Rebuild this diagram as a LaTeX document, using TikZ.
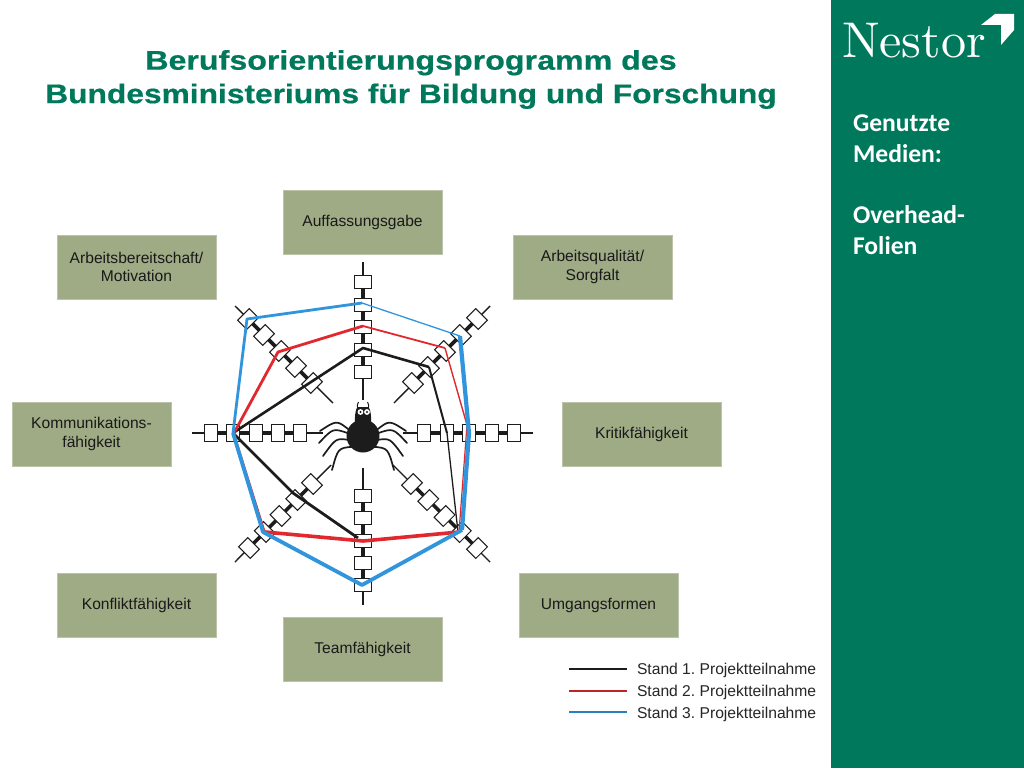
\documentclass[tikz,border=0pt]{standalone}
\usepackage{fontspec}
\usepackage{graphicx}
\newfontfamily\arialf{Liberation Sans}
\newfontfamily\titlef[BoldFeatures={FakeBold=0.5}]{Liberation Sans}
\newfontfamily\calibf{Carlito}
\usetikzlibrary{calc}
\definecolor{nestor}{HTML}{00785C}
\definecolor{sage}{HTML}{9EAB85}
\definecolor{ink}{HTML}{1C1C1C}
\definecolor{redline}{HTML}{E1282E}
\definecolor{blueline}{HTML}{3195DE}
\frenchspacing
\tikzset{
  every node/.style={inner sep=0pt,outer sep=0pt},
  label box/.style={fill=sage,draw=sage!70!white,line width=0.6pt,minimum width=159pt,minimum height=64pt,align=center,font=\arialf\fontsize{15.6}{18.5}\selectfont,text=black!90},
  tick box/.style={draw=ink,fill=white,line width=1pt,minimum width=16.5pt,minimum height=13pt},
  title text/.style={font=\titlef\bfseries\fontsize{27}{33.5}\selectfont,text=nestor,align=center,xscale=1.175},
  side text/.style={font=\calibf\bfseries\fontsize{25.6}{30.7}\selectfont,text=white,align=left,anchor=north west},
  legend text/.style={font=\arialf\frenchspacing\fontsize{15.65}{18}\selectfont,text=black!85,anchor=west},
  leg/.style={draw=ink,line width=1.7pt,line cap=round},
  thin spoke/.style={draw=ink,line width=1.4pt},
  thick spoke/.style={draw=ink,line width=3.6pt},
}
\begin{document}
\begin{tikzpicture}[x=1pt,y=-1pt]
\useasboundingbox (0,0) rectangle (1024,768);
\fill[white] (0,0) rectangle (1024,768);
\fill[nestor] (831,0) rectangle (1024,768);

% logo
\node[anchor=base west,text=white,font=\rmfamily\fontsize{10}{12}\selectfont,scale=5.02] (logo) at (842,57) {Nestor};
\fill[white] (981,25) -- (995,14) -- (1014,14) -- (1014,30) -- (1001,45) -- (1001,25) -- cycle;

% title and side text
\node[title text] (title) at (411,79.5) {\scalebox{1.015}[1]{Berufsorientierungsprogramm des}\\Bundesministeriums für Bildung und Forschung};
\node[side text] (media) at (853,115) {Genutzte\\Medien:\\[30.7pt]Overhead-\\Folien};

% label boxes
\node[label box] (auff) at (362.5,222) {Auffassungsgabe};
\node[label box] (arbb) at (136.5,267) {Arbeitsbereitschaft/\\Motivation};
\node[label box] (arbq) at (592.5,267) {Arbeitsqualität/\\Sorgfalt};
\node[label box] (komm) at (91.5,434) {Kommunikations-\\fähigkeit};
\node[label box] (krit) at (641.5,434) {Kritikfähigkeit};
\node[label box] (konf) at (136.5,605) {Konfliktfähigkeit};
\node[label box] (umga) at (598.5,605) {Umgangsformen};
\node[label box] (team) at (362.5,649) {Teamfähigkeit};

% spokes: name / outer tip / inner tip / outer box / inner box / rotation
\foreach \n/\tipa/\tipb/\boxa/\boxb/\rot in {
  N/{363,262}/{363,400}/{363,282}/{363,372}/0,
  S/{363,605}/{363,468}/{363,585}/{363,496}/0,
  W/{192,433}/{323,433}/{211,433}/{300,433}/90,
  E/{533,433}/{403,433}/{514,433}/{424,433}/90,
  NW/{235,306}/{333,403}/{248,319}/{312,383}/45,
  NE/{490,306}/{394,403}/{477,319}/{413,383}/-45,
  SW/{235,562}/{331,465}/{249,548}/{312,484}/-45,
  SE/{490,562}/{393,465}/{477,548}/{412,484}/45}{
  \coordinate (\n ta) at (\tipa);
  \coordinate (\n tb) at (\tipb);
  \coordinate (\n ba) at (\boxa);
  \coordinate (\n bb) at (\boxb);
  \path[thin spoke] (\n ta) -- (\n tb);
  \path[thick spoke] (\n ba) -- (\n bb);
  \foreach \k in {0,1,2,3,4}{
    \node[tick box,rotate=\rot] (\n\k) at ($(\n ba)!\k/4!(\n bb)$) {};
  }
}

% spider
\foreach \xa/\ya/\xb/\yb/\xc/\yc in {
    349.3/430/336.7/420/320/431,
    348.3/433.3/333/428/319/443,
    349.3/440/336/438/323/456,
    353.3/446.7/338/448/332/470,
    376.7/430/389.3/420/406/431,
    377.7/433.3/393/428/407/443,
    376.7/440/390/438/403/456,
    372.7/446.7/388/448/394/470}{
  \draw[leg] (\xa,\ya) .. controls (\xb,\yb) .. (\xc,\yc);
}
\fill[ink] (363,436) circle (16.5);
\fill[ink] (355,425) .. controls (354.5,416) and (355.5,409) .. (357.5,407) -- (368.5,407) .. controls (370.5,409) and (371.5,416) .. (371,425) -- cycle;
\draw[ink,line width=1pt] (358,409) .. controls (357,405) .. (358.5,402);
\draw[ink,line width=1pt] (368,409) .. controls (369,405) .. (367.5,402);
\fill[white] (360.5,412) circle (2.9);
\fill[white] (367,412) circle (2.9);
\fill[ink] (360.5,412) circle (1.1);
\fill[ink] (367,412) circle (1.1);

% polygon vertices
\coordinate (k1) at (233,433);
\coordinate (k2) at (363,348);
\coordinate (k3) at (429,367);
\coordinate (k3b) at (447,433);
\coordinate (k4) at (458,532);
\coordinate (k5) at (358,538);
\coordinate (k6) at (293,493);
\coordinate (r1) at (234,433);
\coordinate (r2) at (278,352);
\coordinate (r3) at (363,326);
\coordinate (r4) at (445,348);
\coordinate (r5) at (467,425);
\coordinate (r6) at (459,532);
\coordinate (r7) at (363,541);
\coordinate (r8) at (265,532);
\coordinate (b1) at (233,433);
\coordinate (b2) at (247,319);
\coordinate (b3) at (362,303);
\coordinate (b4) at (460,336);
\coordinate (b5) at (469,433);
\coordinate (b6) at (462,530);
\coordinate (b7) at (362,585);
\coordinate (b8) at (263,532);

% stand 1
\draw[ink,line join=round,line width=2.6pt] (k1) -- (k2) -- (k3);
\draw[ink,line join=round,line width=2pt] (k3) -- (k3b);
\draw[ink,line width=1.3pt] (k3b) -- (k4);
\draw[ink,line join=round,line width=2.8pt] (k5) -- (k6) -- (k1);
% stand 2
\draw[redline,line join=round,line width=2.8pt] (r1) -- (r2) -- (r3);
\draw[redline,line width=1.8pt] (r3) -- (r4);
\draw[redline,line width=1.4pt] (r4) -- (r5);
\draw[redline,line width=1.2pt] (r5) -- (r6);
\draw[redline,line join=round,line width=3.6pt] (r6) -- (r7) -- (r8);
\draw[redline,line width=1.4pt] (r8) -- (r1);
% stand 3
\draw[blueline,line join=round,line width=2.8pt] (b1) -- (b2) -- (b3);
\draw[blueline,line width=1.3pt] (b3) -- (b4);
\draw[blueline,line join=round,line width=4.2pt] (b4) -- (b5) -- (b6);
\draw[blueline,line join=round,line width=3.8pt] (b6) -- (b7) -- (b8) -- (b1);

% legend
\coordinate (l1a) at (569,669); \coordinate (l1b) at (627,669);
\coordinate (l2a) at (569,691); \coordinate (l2b) at (627,691);
\coordinate (l3a) at (569,712); \coordinate (l3b) at (627,712);
\draw[ink,line width=1.6pt] (l1a) -- (l1b);
\draw[redline!85!black,line width=1.6pt] (l2a) -- (l2b);
\draw[blueline!85!black,line width=1.6pt] (l3a) -- (l3b);
\node[legend text] (s1) at (637,670) {Stand 1. Projektteilnahme};
\node[legend text] (s2) at (637,692) {Stand 2. Projektteilnahme};
\node[legend text] (s3) at (637,714) {Stand 3. Projektteilnahme};
\end{tikzpicture}
\end{document}
